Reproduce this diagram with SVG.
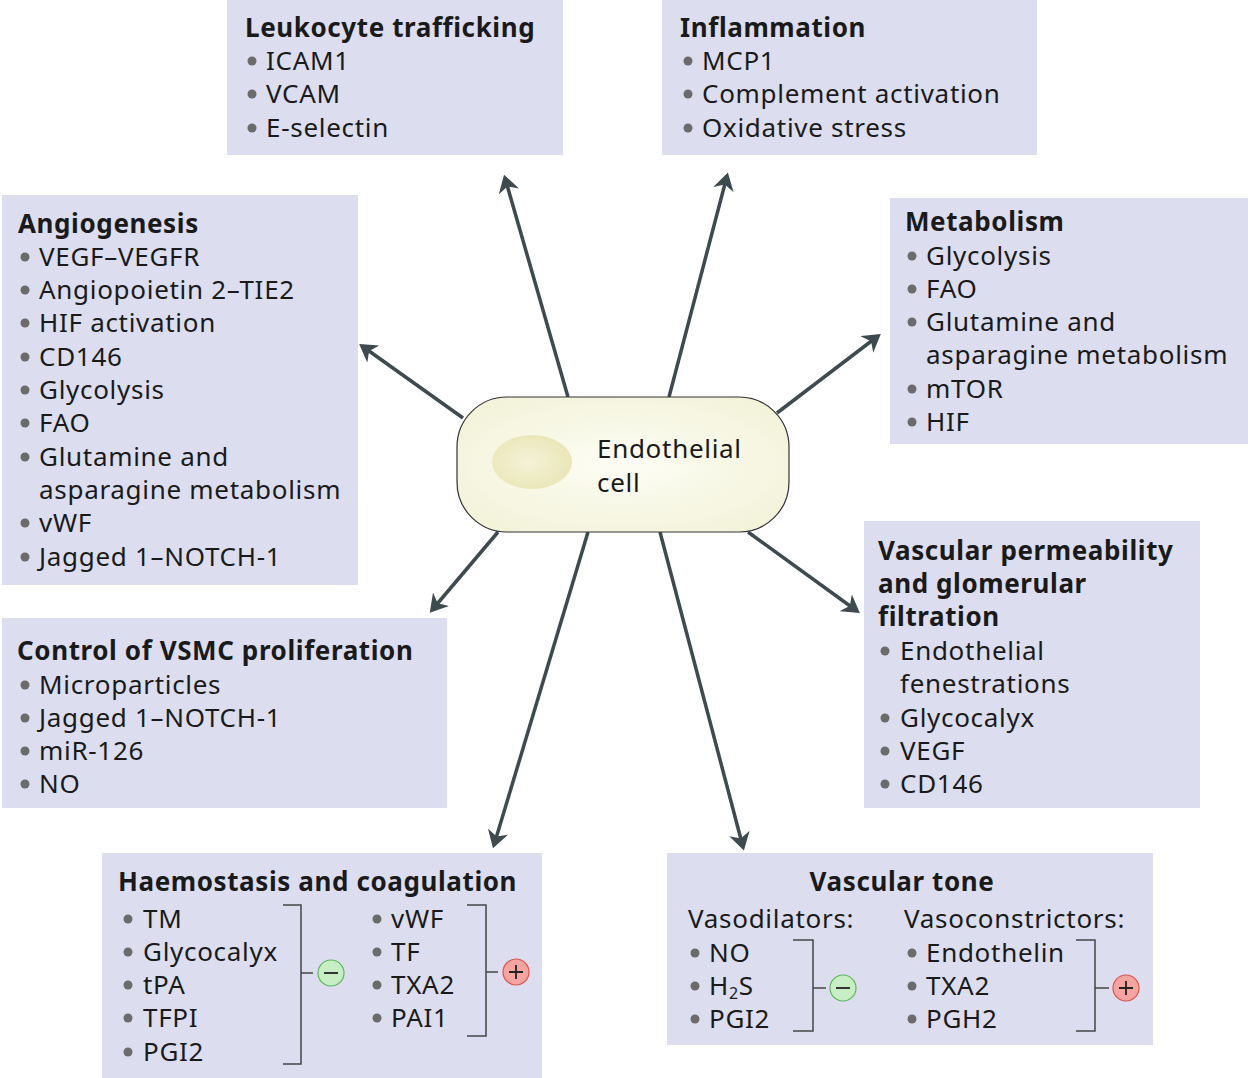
<svg xmlns="http://www.w3.org/2000/svg" width="1248" height="1078" viewBox="0 0 1248 1078">
<style>
.box{fill:#dcdef0}
text{font-family:"Noto Sans","Open Sans",sans-serif;font-size:26px;letter-spacing:0.7px;fill:#1a1a1a}
.t{font-weight:bold;letter-spacing:0.6px}
.b{fill:#6b6b6b}
.br{fill:none;stroke:#444;stroke-width:1.5}
.ar{stroke:#3d4a4f;stroke-width:3.5;fill:none;marker-end:url(#ah)}
</style>
<defs>
<marker id="ah" markerWidth="6" markerHeight="6" refX="4" refY="3" orient="auto" markerUnits="strokeWidth"><path d="M0,0 L5,3 L0,6 L1.5,3 Z" fill="#3d4a4f"/></marker>
<radialGradient id="cg" cx="0.5" cy="0.5" r="0.6"><stop offset="0" stop-color="#fdfdf5"/><stop offset="1" stop-color="#f3f3da"/></radialGradient>
<radialGradient id="ng" cx="0.45" cy="0.5" r="0.6"><stop offset="0" stop-color="#f5f2d8"/><stop offset="1" stop-color="#e9e5b5"/></radialGradient>
</defs>
<g id="connectors">
<line class="ar" x1="568" y1="397" x2="505" y2="178"/>
<line class="ar" x1="669" y1="397" x2="727" y2="176"/>
<line class="ar" x1="463" y1="418" x2="362" y2="346"/>
<line class="ar" x1="777" y1="413" x2="878" y2="336"/>
<line class="ar" x1="498" y1="532" x2="432" y2="610"/>
<line class="ar" x1="748" y1="532" x2="857" y2="611"/>
<line class="ar" x1="588" y1="532" x2="494" y2="845"/>
<line class="ar" x1="660" y1="532" x2="743" y2="847"/>
</g>
<g id="cell">
<rect x="457" y="397" width="332" height="135" rx="50" fill="url(#cg)" stroke="#333" stroke-width="1.2"/>
<ellipse cx="532" cy="462" rx="40" ry="27" fill="url(#ng)"/>
<text x="597" y="458">Endothelial</text><text x="597" y="492">cell</text>
</g>
<g id="leukocyte">
<rect class="box" x="227" y="0" width="336" height="155"/>
<text class="t" x="245" y="37">Leukocyte trafficking</text>
<circle class="b" cx="252" cy="61" r="4.5"/><text x="266" y="70">ICAM1</text>
<circle class="b" cx="252" cy="94" r="4.5"/><text x="266" y="103">VCAM</text>
<circle class="b" cx="252" cy="128" r="4.5"/><text x="266" y="137">E-selectin</text>
</g>
<g id="inflammation">
<rect class="box" x="662" y="0" width="375" height="155"/>
<text class="t" x="680" y="37">Inflammation</text>
<circle class="b" cx="688" cy="61" r="4.5"/><text x="702" y="70">MCP1</text>
<circle class="b" cx="688" cy="94" r="4.5"/><text x="702" y="103">Complement activation</text>
<circle class="b" cx="688" cy="128" r="4.5"/><text x="702" y="137">Oxidative stress</text>
</g>
<g id="angiogenesis">
<rect class="box" x="2" y="195" width="356" height="390"/>
<text class="t" x="18" y="233">Angiogenesis</text>
<circle class="b" cx="25" cy="257" r="4.5"/><text x="39" y="266">VEGF–VEGFR</text>
<circle class="b" cx="25" cy="290" r="4.5"/><text x="39" y="299">Angiopoietin 2–TIE2</text>
<circle class="b" cx="25" cy="323" r="4.5"/><text x="39" y="332">HIF activation</text>
<circle class="b" cx="25" cy="357" r="4.5"/><text x="39" y="366">CD146</text>
<circle class="b" cx="25" cy="390" r="4.5"/><text x="39" y="399">Glycolysis</text>
<circle class="b" cx="25" cy="423" r="4.5"/><text x="39" y="432">FAO</text>
<circle class="b" cx="25" cy="457" r="4.5"/><text x="39" y="466">Glutamine and</text>
<text x="39" y="499">asparagine metabolism</text>
<circle class="b" cx="25" cy="523" r="4.5"/><text x="39" y="532">vWF</text>
<circle class="b" cx="25" cy="557" r="4.5"/><text x="39" y="566">Jagged 1–NOTCH-1</text>
</g>
<g id="metabolism">
<rect class="box" x="890" y="198" width="358" height="246"/>
<text class="t" x="905" y="231">Metabolism</text>
<circle class="b" cx="912" cy="256" r="4.5"/><text x="926" y="265">Glycolysis</text>
<circle class="b" cx="912" cy="289" r="4.5"/><text x="926" y="298">FAO</text>
<circle class="b" cx="912" cy="322" r="4.5"/><text x="926" y="331">Glutamine and</text>
<text x="926" y="364">asparagine metabolism</text>
<circle class="b" cx="912" cy="389" r="4.5"/><text x="926" y="398">mTOR</text>
<circle class="b" cx="912" cy="422" r="4.5"/><text x="926" y="431">HIF</text>
</g>
<g id="vsmc">
<rect class="box" x="2" y="618" width="445" height="190"/>
<text class="t" x="17" y="660">Control of VSMC proliferation</text>
<circle class="b" cx="25" cy="685" r="4.5"/><text x="39" y="694">Microparticles</text>
<circle class="b" cx="25" cy="718" r="4.5"/><text x="39" y="727">Jagged 1–NOTCH-1</text>
<circle class="b" cx="25" cy="751" r="4.5"/><text x="39" y="760">miR-126</text>
<circle class="b" cx="25" cy="784" r="4.5"/><text x="39" y="793">NO</text>
</g>
<g id="permeability">
<rect class="box" x="864" y="521" width="336" height="287"/>
<text class="t" x="878" y="560">Vascular permeability</text>
<text class="t" x="878" y="593">and glomerular</text>
<text class="t" x="878" y="626">filtration</text>
<circle class="b" cx="885" cy="651" r="4.5"/><text x="900" y="660">Endothelial</text>
<text x="900" y="693">fenestrations</text>
<circle class="b" cx="885" cy="718" r="4.5"/><text x="900" y="727">Glycocalyx</text>
<circle class="b" cx="885" cy="751" r="4.5"/><text x="900" y="760">VEGF</text>
<circle class="b" cx="885" cy="784" r="4.5"/><text x="900" y="793">CD146</text>
</g>
<g id="haemostasis">
<rect class="box" x="102" y="853" width="440" height="225"/>
<text class="t" x="118" y="891">Haemostasis and coagulation</text>
<circle class="b" cx="128" cy="919" r="4.5"/><text x="143" y="928">TM</text>
<circle class="b" cx="128" cy="952" r="4.5"/><text x="143" y="961">Glycocalyx</text>
<circle class="b" cx="128" cy="985" r="4.5"/><text x="143" y="994">tPA</text>
<circle class="b" cx="128" cy="1018" r="4.5"/><text x="143" y="1027">TFPI</text>
<circle class="b" cx="128" cy="1052" r="4.5"/><text x="143" y="1061">PGI2</text>
<circle class="b" cx="377" cy="919" r="4.5"/><text x="391" y="928">vWF</text>
<circle class="b" cx="377" cy="952" r="4.5"/><text x="391" y="961">TF</text>
<circle class="b" cx="377" cy="985" r="4.5"/><text x="391" y="994">TXA2</text>
<circle class="b" cx="377" cy="1018" r="4.5"/><text x="391" y="1027">PAI1</text>
<path class="br" d="M283,905 H301 V1064 H283 M301,973 H313"/>
<circle cx="331" cy="973" r="13" fill="#c8efc4" stroke="#5cb85c" stroke-width="1.2"/>
<line x1="324" y1="973" x2="338" y2="973" stroke="#222" stroke-width="1.8"/>
<path class="br" d="M467,905 H486 V1036 H467 M486,972 H498"/>
<circle cx="516" cy="972" r="13" fill="#f7a4a0" stroke="#d9534f" stroke-width="1.2"/>
<path d="M509,972 H523 M516,965 V979" stroke="#222" stroke-width="1.8"/>
</g>
<g id="tone">
<rect class="box" x="667" y="853" width="486" height="192"/>
<text class="t" x="902" y="891" text-anchor="middle">Vascular tone</text>
<text x="688" y="928">Vasodilators:</text>
<text x="904" y="928">Vasoconstrictors:</text>
<circle class="b" cx="695" cy="953" r="4.5"/><text x="709" y="962">NO</text>
<circle class="b" cx="695" cy="986" r="4.5"/><text x="709" y="995">H<tspan font-size="16" dy="4">2</tspan><tspan dy="-4">S</tspan></text>
<circle class="b" cx="695" cy="1019" r="4.5"/><text x="709" y="1028">PGI2</text>
<circle class="b" cx="912" cy="953" r="4.5"/><text x="926" y="962">Endothelin</text>
<circle class="b" cx="912" cy="986" r="4.5"/><text x="926" y="995">TXA2</text>
<circle class="b" cx="912" cy="1019" r="4.5"/><text x="926" y="1028">PGH2</text>
<path class="br" d="M793,940 H813 V1031 H793 M813,988 H826"/>
<circle cx="843" cy="988" r="13" fill="#c8efc4" stroke="#5cb85c" stroke-width="1.2"/>
<line x1="836" y1="988" x2="850" y2="988" stroke="#222" stroke-width="1.8"/>
<path class="br" d="M1076,940 H1095 V1031 H1076 M1095,988 H1109"/>
<circle cx="1126" cy="988" r="13" fill="#f7a4a0" stroke="#d9534f" stroke-width="1.2"/>
<path d="M1119,988 H1133 M1126,981 V995" stroke="#222" stroke-width="1.8"/>
</g>
</svg>
